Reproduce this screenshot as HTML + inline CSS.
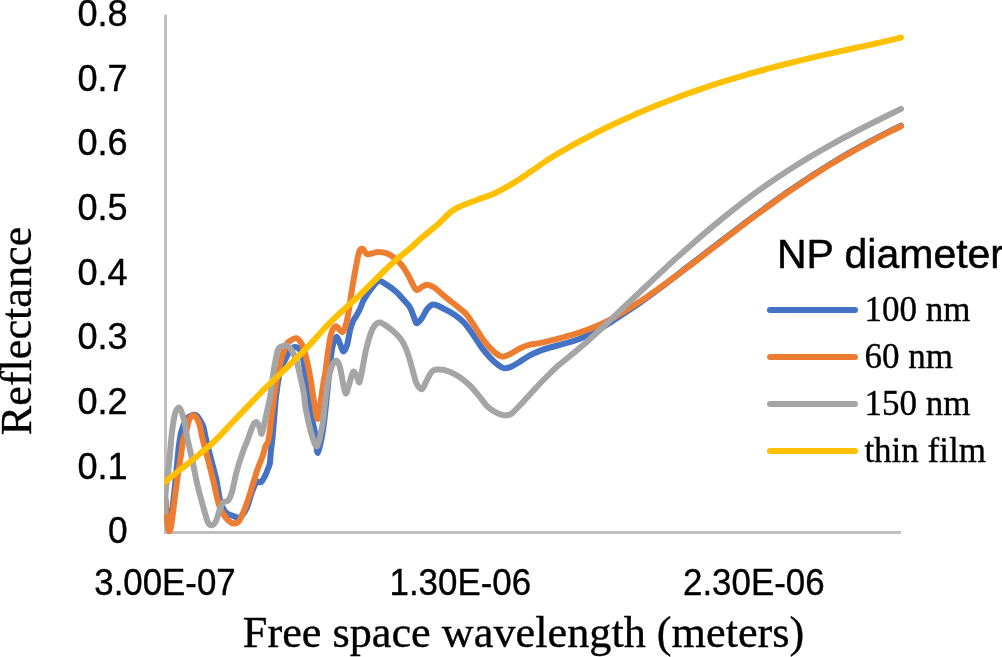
<!DOCTYPE html>
<html lang="en">
<head>
<meta charset="utf-8">
<title>Reflectance vs free space wavelength</title>
<style>
html,body{margin:0;padding:0;background:#fff;}
body{width:1002px;height:657px;overflow:hidden;}
svg{display:block;}
text{fill:#000;stroke:#000;stroke-width:0.35px;stroke-linejoin:round;}
.sans{font-family:"Liberation Sans",sans-serif;stroke-width:0.5px;}
.serif{font-family:"Liberation Serif",serif;}
</style>
</head>
<body>
<svg width="1002" height="657" viewBox="0 0 1002 657">
<rect width="1002" height="657" fill="#fff"/>
<!-- axes -->
<line x1="165.5" y1="14.8" x2="165.5" y2="534" stroke="#BFBFBF" stroke-width="3"/>
<line x1="164" y1="532.5" x2="901" y2="532.5" stroke="#BFBFBF" stroke-width="3.2"/>
<!-- series -->
<clipPath id="plotclip"><rect x="164.3" y="0" width="760" height="540"/></clipPath>
<g clip-path="url(#plotclip)">
<path d="M165.5,500.0 C165.7,502.0 166.0,507.3 166.5,512.0 C167.0,516.7 167.9,527.5 168.7,528.0 C169.5,528.5 170.5,521.3 171.5,515.0 C172.5,508.7 173.6,498.3 174.5,490.0 C175.4,481.7 176.2,472.5 177.0,465.0 C177.8,457.5 178.2,450.7 179.0,445.0 C179.8,439.3 180.3,435.2 181.5,431.0 C182.7,426.8 184.4,422.6 186.0,420.0 C187.6,417.4 189.2,416.2 191.0,415.5 C192.8,414.8 195.1,414.6 196.7,415.5 C198.3,416.4 199.4,419.1 200.5,421.0 C201.6,422.9 202.5,424.2 203.4,427.0 C204.3,429.8 204.6,433.1 205.7,437.8 C206.8,442.5 208.3,448.3 210.0,455.0 C211.7,461.7 214.3,470.5 216.0,478.0 C217.7,485.5 218.7,494.7 220.0,500.0 C221.3,505.3 222.7,507.7 224.0,510.0 C225.3,512.3 226.7,513.1 228.0,514.0 C229.3,514.9 230.7,515.0 232.0,515.5 C233.3,516.0 234.8,516.5 236.0,517.0 C237.2,517.5 237.3,519.8 239.0,518.5 C240.7,517.2 244.1,513.4 246.3,509.0 C248.5,504.6 250.3,496.4 252.0,492.0 C253.7,487.6 254.9,484.2 256.5,482.5 C258.1,480.8 259.9,483.0 261.3,481.9 C262.7,480.8 263.8,478.3 265.0,476.0 C266.2,473.7 267.5,470.2 268.3,468.0 C269.1,465.8 269.6,465.5 270.0,462.5 C270.4,459.5 270.6,453.8 271.0,450.0 C271.4,446.2 271.8,445.5 272.3,440.0 C272.9,434.5 273.6,424.5 274.3,416.9 C275.0,409.3 275.3,401.9 276.3,394.4 C277.3,386.9 278.3,378.4 280.1,371.9 C281.9,365.4 285.4,359.3 287.2,355.5 C289.0,351.7 289.6,350.4 291.0,349.0 C292.4,347.6 293.8,346.7 295.4,347.0 C297.0,347.3 299.3,348.4 300.7,351.0 C302.1,353.6 302.7,357.4 303.7,362.9 C304.7,368.4 305.9,378.3 306.7,383.8 C307.4,389.3 307.5,390.6 308.2,395.8 C308.9,401.0 309.9,409.0 311.0,415.0 C312.1,421.0 313.8,425.7 314.9,432.0 C316.0,438.3 316.5,453.4 317.9,453.0 C319.3,452.6 321.6,439.1 323.1,429.4 C324.6,419.7 325.8,406.6 327.0,395.0 C328.2,383.4 329.6,368.2 330.6,359.9 C331.6,351.5 331.9,348.8 332.9,344.9 C333.9,341.0 335.4,336.7 336.6,336.7 C337.9,336.7 339.3,342.4 340.4,344.9 C341.5,347.4 342.3,351.6 343.4,351.6 C344.5,351.6 346.0,348.5 347.1,344.9 C348.2,341.3 349.1,333.9 350.1,329.9 C351.1,325.9 352.0,323.5 353.1,321.0 C354.2,318.5 355.6,317.2 356.8,315.0 C358.1,312.8 359.5,310.0 360.6,307.5 C361.8,305.0 361.8,303.2 363.7,299.9 C365.6,296.6 369.4,291.0 371.9,287.9 C374.4,284.8 376.2,281.6 378.7,281.1 C381.2,280.6 384.0,283.1 386.9,284.9 C389.8,286.6 392.9,288.9 395.9,291.6 C398.9,294.3 402.5,298.7 404.9,301.3 C407.2,303.9 408.5,305.0 410.0,307.5 C411.5,310.0 412.6,313.9 413.7,316.5 C414.8,319.1 415.3,322.9 416.7,323.2 C418.1,323.4 420.2,320.4 422.0,318.0 C423.8,315.6 425.3,311.2 427.2,309.0 C429.1,306.8 430.6,304.6 433.2,304.5 C435.8,304.4 439.3,306.4 442.9,308.2 C446.5,309.9 451.4,312.6 454.9,315.0 C458.4,317.4 460.9,319.3 463.9,322.5 C466.9,325.7 469.9,330.2 472.9,334.4 C475.9,338.6 478.9,343.9 481.9,347.9 C484.9,351.9 488.1,355.5 490.8,358.4 C493.5,361.3 496.2,363.5 498.3,365.1 C500.4,366.7 501.6,367.8 503.6,368.1 C505.6,368.4 507.7,368.1 510.3,367.1 C512.9,366.1 516.0,364.1 519.3,362.1 C522.5,360.2 526.1,357.4 529.8,355.4 C533.5,353.4 538.0,351.5 541.7,350.1 C545.4,348.7 548.1,348.1 552.0,347.0 C555.9,345.9 560.3,344.8 565.0,343.4 C569.7,342.0 575.0,340.7 580.0,338.7 C585.0,336.7 590.0,334.3 595.0,331.6 C600.0,328.9 605.0,325.8 610.0,322.6 C615.0,319.5 620.0,316.1 625.0,312.8 C630.0,309.5 635.0,306.2 640.0,302.7 C645.0,299.2 650.0,295.5 655.0,291.8 C660.0,288.1 664.2,285.1 670.0,280.6 C675.8,276.2 683.3,270.1 690.0,265.0 C696.7,259.8 703.3,254.8 710.0,249.7 C716.7,244.6 723.3,239.4 730.0,234.3 C736.7,229.2 743.3,224.2 750.0,219.2 C756.7,214.2 763.3,209.3 770.0,204.5 C776.7,199.7 783.3,194.9 790.0,190.3 C796.7,185.7 803.3,181.2 810.0,176.9 C816.7,172.6 823.3,168.3 830.0,164.2 C836.7,160.2 843.3,156.2 850.0,152.4 C856.7,148.6 864.2,144.5 870.0,141.4 C875.8,138.2 879.8,136.2 885.0,133.6 C890.2,131.0 898.3,127.0 901.0,125.7" fill="none" stroke="#4472C4" stroke-width="6.0" stroke-linecap="round" stroke-linejoin="round"/>
<path d="M165.5,500.0 C165.7,502.3 166.1,509.3 166.5,514.0 C166.9,518.7 167.7,525.2 168.2,528.0 C168.7,530.8 169.0,531.2 169.5,531.0 C170.0,530.8 170.4,530.0 171.0,527.0 C171.6,524.0 172.0,520.0 172.9,513.0 C173.8,506.0 175.2,494.6 176.5,484.9 C177.8,475.2 179.9,462.5 181.0,455.0 C182.1,447.5 182.3,443.9 183.2,440.0 C184.1,436.1 185.2,435.2 186.2,431.8 C187.2,428.4 187.9,422.5 189.2,419.8 C190.4,417.1 192.1,414.9 193.7,415.4 C195.3,415.9 197.4,419.0 198.9,422.8 C200.4,426.6 200.9,431.9 202.4,438.0 C203.9,444.1 206.1,452.2 208.0,459.5 C209.9,466.8 211.9,474.7 213.6,481.9 C215.3,489.1 216.8,497.6 218.4,502.9 C220.0,508.1 221.2,510.4 222.9,513.4 C224.7,516.4 227.0,519.3 228.9,521.0 C230.8,522.7 232.5,523.6 234.3,523.5 C236.1,523.4 237.7,523.0 239.5,520.3 C241.3,517.6 243.3,512.5 245.3,507.4 C247.3,502.2 249.3,495.6 251.3,489.4 C253.3,483.1 255.4,475.4 257.3,469.9 C259.2,464.4 261.1,460.5 262.5,456.5 C263.9,452.5 264.5,448.8 265.5,446.0 C266.5,443.2 267.5,444.9 268.5,440.0 C269.5,435.1 270.5,424.5 271.5,416.9 C272.5,409.3 273.4,401.9 274.5,394.4 C275.6,386.9 276.9,378.6 278.3,371.9 C279.7,365.2 281.3,358.7 282.8,354.0 C284.3,349.3 286.1,345.6 287.2,343.5 C288.3,341.4 288.0,342.1 289.5,341.2 C291.0,340.3 294.1,337.6 296.2,338.2 C298.3,338.8 300.4,341.3 302.2,344.9 C303.9,348.5 305.3,354.4 306.7,359.9 C308.1,365.4 309.1,370.9 310.4,378.0 C311.6,385.1 312.9,395.7 314.2,402.5 C315.4,409.3 316.7,420.1 317.9,418.9 C319.1,417.6 320.6,401.5 321.6,395.0 C322.6,388.5 323.3,383.9 323.9,380.0 C324.5,376.1 324.6,377.0 325.4,371.9 C326.1,366.8 327.4,355.9 328.4,349.4 C329.4,342.9 330.1,336.8 331.4,332.9 C332.6,329.0 334.0,326.3 335.9,326.2 C337.8,326.1 340.8,332.8 342.6,332.2 C344.4,331.6 345.4,326.6 346.5,322.5 C347.6,318.4 348.5,312.5 349.3,307.5 C350.1,302.5 350.5,298.7 351.5,292.4 C352.5,286.1 354.1,276.6 355.4,269.9 C356.7,263.1 357.9,255.4 359.2,251.9 C360.4,248.4 361.5,248.6 362.9,249.0 C364.3,249.4 364.9,253.7 367.4,254.2 C369.9,254.7 374.6,252.0 377.9,251.9 C381.1,251.8 384.1,252.4 386.9,253.4 C389.6,254.4 391.9,255.9 394.4,257.9 C396.9,259.9 399.7,262.6 401.9,265.4 C404.1,268.1 405.9,271.1 407.8,274.4 C409.7,277.6 411.6,282.3 413.1,284.9 C414.6,287.5 415.2,289.9 416.8,290.1 C418.4,290.4 420.9,287.3 422.8,286.4 C424.7,285.5 426.1,284.6 428.1,284.9 C430.1,285.1 431.9,285.9 434.8,287.9 C437.7,289.9 441.2,293.5 445.3,296.9 C449.4,300.3 455.8,305.2 459.4,308.2 C463.0,311.2 464.1,311.6 466.9,315.0 C469.6,318.4 472.9,323.9 475.9,328.4 C478.9,332.9 481.9,338.0 484.9,341.9 C487.9,345.8 490.9,349.2 493.8,351.6 C496.7,354.1 499.4,356.2 502.1,356.6 C504.9,357.0 507.4,355.2 510.3,353.9 C513.2,352.6 516.0,350.2 519.3,348.7 C522.5,347.1 526.3,345.5 529.8,344.6 C533.2,343.7 536.3,343.8 540.0,343.1 C543.7,342.4 547.8,341.2 552.0,340.2 C556.2,339.1 560.3,338.1 565.0,336.8 C569.7,335.5 575.0,334.1 580.0,332.4 C585.0,330.7 590.0,328.9 595.0,326.8 C600.0,324.7 605.0,322.3 610.0,319.6 C615.0,317.0 620.0,314.0 625.0,311.0 C630.0,308.0 635.0,304.8 640.0,301.5 C645.0,298.2 650.0,294.7 655.0,291.2 C660.0,287.7 664.2,284.7 670.0,280.4 C675.8,276.1 683.3,270.5 690.0,265.5 C696.7,260.4 703.3,255.3 710.0,250.2 C716.7,245.1 723.3,239.9 730.0,234.8 C736.7,229.7 743.3,224.7 750.0,219.7 C756.7,214.7 763.3,209.8 770.0,205.0 C776.7,200.2 783.3,195.4 790.0,190.8 C796.7,186.2 803.3,181.7 810.0,177.4 C816.7,173.1 823.3,168.8 830.0,164.7 C836.7,160.7 843.3,156.7 850.0,152.9 C856.7,149.1 864.2,145.0 870.0,141.9 C875.8,138.7 879.8,136.7 885.0,134.1 C890.2,131.5 898.3,127.5 901.0,126.2" fill="none" stroke="#ED7D31" stroke-width="6.0" stroke-linecap="round" stroke-linejoin="round"/>
<path d="M164.6,512.0 C164.7,509.7 164.9,502.7 165.2,498.0 C165.5,493.3 166.0,488.6 166.5,484.0 C167.0,479.4 167.7,476.2 168.3,470.5 C168.9,464.8 169.7,456.4 170.3,450.0 C170.9,443.6 171.2,437.8 172.0,431.8 C172.8,425.8 173.8,417.9 175.0,413.9 C176.2,409.9 178.0,406.9 179.5,407.9 C181.0,408.9 182.6,414.4 184.0,419.8 C185.4,425.2 186.3,433.4 187.7,440.0 C189.1,446.6 190.6,452.0 192.2,459.5 C193.8,467.0 195.5,476.9 197.4,484.9 C199.3,492.9 201.7,501.2 203.4,507.4 C205.2,513.6 206.5,519.3 207.9,522.3 C209.3,525.3 210.2,525.5 211.6,525.3 C213.0,525.0 214.7,523.5 216.1,520.8 C217.5,518.1 218.7,512.0 219.9,508.9 C221.2,505.8 222.2,503.5 223.6,502.1 C225.0,500.7 226.7,502.2 228.1,500.6 C229.5,499.0 230.5,497.0 231.9,492.4 C233.3,487.8 234.6,479.4 236.3,472.9 C238.0,466.4 240.4,459.0 242.3,453.5 C244.2,448.0 245.8,444.6 247.6,440.0 C249.3,435.4 251.3,428.8 252.8,425.8 C254.3,422.8 255.5,421.9 256.6,422.1 C257.7,422.4 258.7,425.4 259.6,427.3 C260.5,429.2 260.8,435.2 261.8,433.5 C262.8,431.8 264.4,423.4 265.8,416.9 C267.2,410.4 269.2,401.9 270.5,394.4 C271.8,386.9 272.4,378.6 273.5,371.9 C274.6,365.2 275.9,358.0 276.8,354.0 C277.7,350.0 277.8,349.3 279.0,347.9 C280.2,346.5 282.8,346.1 284.2,345.7 C285.6,345.3 286.1,345.1 287.2,345.7 C288.3,346.3 289.5,347.0 291.0,349.4 C292.5,351.8 294.7,355.6 296.2,359.9 C297.7,364.1 298.6,369.4 299.9,374.9 C301.1,380.4 302.7,387.0 303.7,392.8 C304.7,398.6 304.5,402.8 305.9,409.9 C307.3,417.0 310.0,429.4 311.9,435.4 C313.8,441.4 315.4,447.6 317.2,445.9 C318.9,444.1 321.0,432.5 322.4,424.9 C323.8,417.2 324.5,406.9 325.4,400.0 C326.3,393.1 326.6,389.2 327.6,383.8 C328.6,378.4 330.0,371.3 331.4,367.4 C332.8,363.5 334.5,360.9 335.9,360.6 C337.3,360.4 338.5,362.5 339.6,365.9 C340.7,369.3 341.6,376.2 342.6,380.8 C343.6,385.4 344.5,393.1 345.6,393.6 C346.7,394.1 348.1,387.4 349.3,383.8 C350.6,380.2 351.9,373.1 353.1,371.9 C354.4,370.6 355.7,374.6 356.8,376.3 C357.9,378.0 358.6,383.3 359.5,382.3 C360.4,381.3 361.1,375.6 362.1,370.4 C363.2,365.2 364.4,356.9 365.8,350.9 C367.2,344.9 368.8,338.6 370.3,334.4 C371.8,330.1 373.2,327.4 374.8,325.4 C376.4,323.4 378.0,322.4 380.0,322.5 C382.0,322.6 384.4,324.6 386.8,326.2 C389.2,327.8 391.8,329.8 394.3,332.2 C396.8,334.6 399.7,337.4 401.7,340.4 C403.7,343.4 405.1,346.5 406.5,350.0 C407.9,353.5 409.2,357.7 410.3,361.5 C411.4,365.3 412.3,369.3 413.4,373.0 C414.5,376.7 415.3,381.1 416.7,383.8 C418.1,386.5 420.4,389.6 422.0,389.1 C423.6,388.6 424.8,383.8 426.5,380.8 C428.2,377.8 430.3,373.0 432.5,371.1 C434.7,369.2 437.2,369.5 439.9,369.6 C442.6,369.7 445.6,370.3 448.9,371.5 C452.2,372.7 456.0,374.7 459.5,377.0 C463.0,379.3 466.7,382.4 469.9,385.5 C473.1,388.6 475.9,392.2 478.9,395.8 C481.9,399.4 484.9,404.0 487.9,406.9 C490.9,409.8 494.4,411.5 496.9,412.9 C499.4,414.3 500.6,414.9 502.9,415.1 C505.1,415.4 508.4,415.2 510.4,414.4 C512.4,413.6 512.7,412.7 514.9,410.5 C517.1,408.3 520.3,405.1 523.8,401.3 C527.3,397.6 531.8,392.3 535.8,388.0 C539.8,383.7 544.1,379.2 547.8,375.5 C551.5,371.8 554.3,369.1 558.0,365.8 C561.7,362.6 565.5,359.7 570.0,356.0 C574.5,352.3 580.0,347.9 585.0,343.6 C590.0,339.2 595.0,334.4 600.0,329.7 C605.0,325.0 610.0,320.3 615.0,315.6 C620.0,310.9 625.0,306.1 630.0,301.4 C635.0,296.6 640.0,291.9 645.0,287.2 C650.0,282.5 655.0,277.8 660.0,273.1 C665.0,268.5 670.0,263.9 675.0,259.3 C680.0,254.8 684.2,251.0 690.0,245.9 C695.8,240.8 703.3,234.2 710.0,228.6 C716.7,223.0 723.3,217.6 730.0,212.3 C736.7,207.0 743.3,201.8 750.0,196.9 C756.7,191.9 763.3,187.1 770.0,182.5 C776.7,177.9 783.3,173.5 790.0,169.2 C796.7,164.9 803.3,160.8 810.0,156.8 C816.7,152.8 823.3,149.0 830.0,145.3 C836.7,141.6 843.3,138.0 850.0,134.5 C856.7,131.0 864.2,127.2 870.0,124.3 C875.8,121.3 879.8,119.4 885.0,116.8 C890.2,114.2 898.3,110.2 901.0,108.9" fill="none" stroke="#A5A5A5" stroke-width="6.0" stroke-linecap="round" stroke-linejoin="round"/>
<path d="M164.2,482.5 C166.5,480.7 173.7,474.9 178.0,471.5 C182.3,468.1 186.0,465.2 190.0,462.0 C194.0,458.8 197.9,455.5 202.0,452.0 C206.1,448.5 209.0,446.6 214.5,441.2 C220.0,435.8 226.5,428.6 234.9,419.8 C243.3,411.1 254.8,398.7 264.8,388.7 C274.8,378.7 287.2,367.3 294.7,360.0 C302.2,352.7 303.8,351.1 309.7,344.9 C315.6,338.6 322.6,329.9 330.0,322.5 C337.4,315.1 348.8,305.1 353.8,300.5 C358.8,295.9 353.9,300.8 359.9,295.0 C365.9,289.2 381.2,273.6 389.9,265.5 C398.6,257.4 407.3,250.9 412.3,246.5 C417.3,242.1 415.7,242.9 420.0,239.2 C424.3,235.5 432.3,229.2 438.0,224.2 C443.7,219.2 447.9,213.4 454.4,209.4 C460.9,205.4 470.1,202.7 476.9,200.0 C483.6,197.3 488.9,196.0 494.9,193.2 C500.9,190.4 506.8,187.0 512.8,183.4 C518.8,179.8 524.6,175.7 530.8,171.5 C537.0,167.3 543.7,162.3 550.2,158.2 C556.7,154.0 563.0,150.5 570.0,146.6 C577.0,142.7 584.7,138.7 592.0,134.9 C599.3,131.1 606.7,127.5 614.0,124.0 C621.3,120.5 628.7,117.3 636.0,114.1 C643.3,110.9 650.7,107.8 658.0,104.8 C665.3,101.8 672.7,99.1 680.0,96.4 C687.3,93.7 694.7,91.1 702.0,88.6 C709.3,86.1 716.7,83.7 724.0,81.4 C731.3,79.1 738.7,76.9 746.0,74.8 C753.3,72.7 760.7,70.7 768.0,68.7 C775.3,66.7 782.7,64.8 790.0,63.0 C797.3,61.2 804.7,59.4 812.0,57.7 C819.3,56.0 826.7,54.2 834.0,52.6 C841.3,51.0 848.7,49.4 856.0,47.8 C863.3,46.2 870.5,44.7 878.0,43.0 C885.5,41.3 897.2,38.4 901.0,37.5" fill="none" stroke="#FFC000" stroke-width="6.0" stroke-linecap="round" stroke-linejoin="round"/>
</g>
<!-- y tick labels -->
<g class="sans" font-size="36.6">
<text x="127.6" y="25.8" text-anchor="end" textLength="50.2" lengthAdjust="spacingAndGlyphs">0.8</text>
<text x="127.6" y="90.5" text-anchor="end" textLength="50.2" lengthAdjust="spacingAndGlyphs">0.7</text>
<text x="127.6" y="155.2" text-anchor="end" textLength="50.2" lengthAdjust="spacingAndGlyphs">0.6</text>
<text x="127.6" y="219.9" text-anchor="end" textLength="50.2" lengthAdjust="spacingAndGlyphs">0.5</text>
<text x="127.6" y="284.6" text-anchor="end" textLength="50.2" lengthAdjust="spacingAndGlyphs">0.4</text>
<text x="127.6" y="349.3" text-anchor="end" textLength="50.2" lengthAdjust="spacingAndGlyphs">0.3</text>
<text x="127.6" y="414.0" text-anchor="end" textLength="50.2" lengthAdjust="spacingAndGlyphs">0.2</text>
<text x="127.6" y="478.7" text-anchor="end" textLength="50.2" lengthAdjust="spacingAndGlyphs">0.1</text>
<text x="127.6" y="543.4" text-anchor="end" textLength="19.6" lengthAdjust="spacingAndGlyphs">0</text>
</g>
<!-- x tick labels -->
<g class="sans" font-size="36.6">
<text x="165" y="594.6" text-anchor="middle" textLength="141.5" lengthAdjust="spacingAndGlyphs">3.00E-07</text>
<text x="460.3" y="594.6" text-anchor="middle" textLength="141.5" lengthAdjust="spacingAndGlyphs">1.30E-06</text>
<text x="753.8" y="594.6" text-anchor="middle" textLength="141.5" lengthAdjust="spacingAndGlyphs">2.30E-06</text>
</g>
<!-- axis titles -->
<text class="serif" font-size="44" x="242.8" y="646.8" textLength="561.5" lengthAdjust="spacingAndGlyphs">Free space wavelength (meters)</text>
<text class="serif" font-size="44" transform="translate(31.2,435.2) rotate(-90)" textLength="208.5" lengthAdjust="spacingAndGlyphs">Reflectance</text>
<!-- legend -->
<text class="sans" font-size="41" x="777" y="268.3" textLength="227" lengthAdjust="spacingAndGlyphs">NP diameter</text>
<line x1="770" y1="309.9" x2="855" y2="309.9" stroke="#4472C4" stroke-width="6.0" stroke-linecap="round"/>
<text x="864.4" y="320.6" class="serif" font-size="35">100 nm</text>
<line x1="770" y1="356.9" x2="855" y2="356.9" stroke="#ED7D31" stroke-width="6.0" stroke-linecap="round"/>
<text x="864.4" y="367.6" class="serif" font-size="35">60 nm</text>
<line x1="770" y1="403.9" x2="855" y2="403.9" stroke="#A5A5A5" stroke-width="6.0" stroke-linecap="round"/>
<text x="864.4" y="414.6" class="serif" font-size="35">150 nm</text>
<line x1="770" y1="450.9" x2="855" y2="450.9" stroke="#FFC000" stroke-width="6.0" stroke-linecap="round"/>
<text x="864.4" y="461.6" class="serif" font-size="35">thin film</text>

</svg>
</body>
</html>
